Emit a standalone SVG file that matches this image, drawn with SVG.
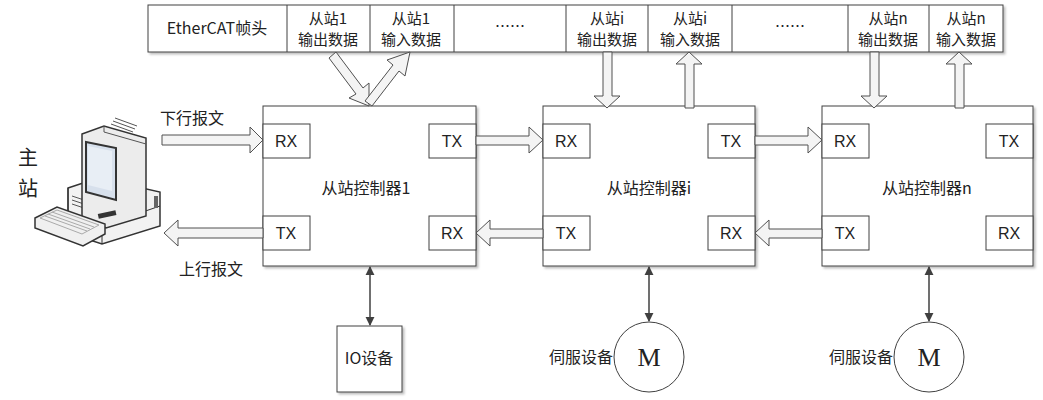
<svg xmlns="http://www.w3.org/2000/svg" width="1043" height="400" viewBox="0 0 1043 400">
<defs>
<style>
.b{fill:#fff;stroke:#404040;stroke-width:1}
.ha{fill:#f4f4f4;stroke:#505050;stroke-width:1}
.t{font-family:"Noto Sans CJK SC","Liberation Sans",sans-serif;font-size:15px;fill:#222;text-anchor:middle}
.tb{font-family:"Noto Sans CJK SC","Liberation Sans",sans-serif;font-size:16px;fill:#222;text-anchor:middle}
.tl{font-family:"Liberation Sans","Noto Sans CJK SC",sans-serif;font-size:16px;fill:#222;text-anchor:middle}
.big{font-family:"Noto Sans CJK SC",sans-serif;font-size:20px;fill:#222;text-anchor:middle}
.m{font-family:"Liberation Serif",serif;font-size:26px;fill:#222;text-anchor:middle}
.c{stroke:#404040;stroke-width:1.5;fill:none}
</style>
<filter id="sh" x="-5%" y="-5%" width="115%" height="115%"><feDropShadow dx="2" dy="2" stdDeviation="1" flood-color="#000" flood-opacity="0.25"/></filter>
<marker id="ah" viewBox="0 0 10 10" refX="9" refY="5" markerWidth="9" markerHeight="11" markerUnits="userSpaceOnUse" orient="auto-start-reverse"><path d="M0,0L10,5L0,10z" fill="#404040"/></marker>
</defs>

<g id="frame" filter="url(#sh)">
<rect class="b" x="148" y="5" width="855" height="47"/>
<path d="M287,5V52M370,5V52M454,5V52M566,5V52M648,5V52M732,5V52M848,5V52M929,5V52" stroke="#404040" fill="none"/>
</g>
<g id="frame-text">
<text class="tb" x="217" y="34">EtherCAT帧头</text>
<text class="t" x="328" y="24">从站1</text><text class="t" x="328" y="45">输出数据</text>
<text class="t" x="411" y="24">从站1</text><text class="t" x="411" y="45">输入数据</text>
<text class="t" x="510" y="32">……</text>
<text class="t" x="607" y="24">从站i</text><text class="t" x="607" y="45">输出数据</text>
<text class="t" x="690" y="24">从站i</text><text class="t" x="690" y="45">输入数据</text>
<text class="t" x="790" y="32">……</text>
<text class="t" x="888" y="24">从站n</text><text class="t" x="888" y="45">输出数据</text>
<text class="t" x="966" y="24">从站n</text><text class="t" x="966" y="45">输入数据</text>
</g>

<g id="controller1" filter="url(#sh)">
<rect class="b" x="263" y="106" width="213" height="160"/>
<rect class="b" x="263" y="124" width="47" height="34"/>
<rect class="b" x="429" y="124" width="47" height="34"/>
<rect class="b" x="263" y="216" width="47" height="34"/>
<rect class="b" x="429" y="216" width="47" height="34"/>
</g>
<g id="controller1-text">
<text class="tl" x="286" y="147">RX</text><text class="tl" x="452" y="147">TX</text>
<text class="tl" x="286" y="239">TX</text><text class="tl" x="452" y="239">RX</text>
<text class="tb" x="366" y="194">从站控制器1</text>
</g>

<g id="controlleri" filter="url(#sh)">
<rect class="b" x="543" y="106" width="212" height="160"/>
<rect class="b" x="543" y="124" width="47" height="34"/>
<rect class="b" x="708" y="124" width="47" height="34"/>
<rect class="b" x="543" y="216" width="47" height="34"/>
<rect class="b" x="708" y="216" width="47" height="34"/>
</g>
<g id="controlleri-text">
<text class="tl" x="566" y="147">RX</text><text class="tl" x="731" y="147">TX</text>
<text class="tl" x="566" y="239">TX</text><text class="tl" x="731" y="239">RX</text>
<text class="tb" x="649" y="194">从站控制器i</text>
</g>

<g id="controllern" filter="url(#sh)">
<rect class="b" x="822" y="106" width="211" height="160"/>
<rect class="b" x="822" y="124" width="47" height="34"/>
<rect class="b" x="986" y="124" width="47" height="34"/>
<rect class="b" x="822" y="216" width="47" height="34"/>
<rect class="b" x="986" y="216" width="47" height="34"/>
</g>
<g id="controllern-text">
<text class="tl" x="845" y="147">RX</text><text class="tl" x="1009" y="147">TX</text>
<text class="tl" x="845" y="239">TX</text><text class="tl" x="1009" y="239">RX</text>
<text class="tb" x="927" y="194">从站控制器n</text>
</g>

<g id="io" filter="url(#sh)"><rect class="b" x="337" y="326" width="65" height="66"/></g>
<text class="tb" x="369" y="364">IO设备</text>
<g id="servoi"><circle class="b" cx="649" cy="357" r="35"/><text class="m" x="649" y="366">M</text>
<text class="tb" x="613" y="363" style="text-anchor:end">伺服设备</text></g>
<g id="servon"><circle class="b" cx="929" cy="357" r="35"/><text class="m" x="929" y="366">M</text>
<text class="tb" x="893" y="363" style="text-anchor:end">伺服设备</text></g>

<g id="master">
<text class="big" x="28" y="165">主</text>
<text class="big" x="28" y="196">站</text>
<path d="M68,188l30,-10l62,14l0,34l-58,18l-34,-11z" fill="#f2f2f2" stroke="#333" stroke-width="1.5"/>
<path d="M68,188l0,27l34,11l0,18M102,226l58,-20" fill="none" stroke="#333"/>
<path d="M72,196l24,8M72,200l24,8M72,204l24,8" stroke="#555"/>
<rect x="154" y="196" width="4" height="12" fill="#666"/>
<path d="M82,134l22,-8l42,12l0,78l-40,12l-24,-10z" fill="#ececec" stroke="#333" stroke-width="1.5"/>
<path d="M104,126l0,6l42,12" fill="none" stroke="#555"/>
<path d="M111,124l22,8M113,121l22,8M115,118l22,8" stroke="#555"/>
<path d="M86,142l30,6l0,52l-30,-8z" fill="#d7e0ec" stroke="#333" stroke-width="2"/>
<path d="M88,146l24,5l0,40l-24,-6z" fill="#e8eef5"/>
<rect x="98" y="212" width="18" height="5" fill="#333" transform="rotate(-12 107 214)"/>
<path d="M35,218l22,-11l48,17l0,10l-22,12l-48,-18z" fill="#f0f0f0" stroke="#333" stroke-width="1.5"/>
<path d="M40,218l17,-8l42,15l-17,9zM48,214l42,15M45,216l42,15M52,212l42,15" fill="none" stroke="#aaa"/>
</g>

<g id="connectors">
<polygon class="ha" points="162,135 250,135 250,127 263,140 250,153 250,145 162,145"/>
<polygon class="ha" points="263,228 178,228 178,220 164,233 178,246 178,238 263,238"/>
<polygon class="ha" points="476,136 529,136 529,127 543,140 529,153 529,145 476,145"/>
<polygon class="ha" points="755,136 808,136 808,127 822,140 808,153 808,145 755,145"/>
<polygon class="ha" points="543,229 490,229 490,220 476,233 490,246 490,238 543,238"/>
<polygon class="ha" points="822,229 769,229 769,220 755,233 769,246 769,238 822,238"/>
<polygon class="ha" points="603,52 612,52 612,96 620,96 607,108 594,96 603,96"/>
<polygon class="ha" points="685,108 694,108 694,64 702,64 689,52 676,64 685,64"/>
<polygon class="ha" points="870,52 879,52 879,96 887,96 874,108 861,96 870,96"/>
<polygon class="ha" points="955,108 964,108 964,64 972,64 959,52 946,64 955,64"/>
<polygon class="ha" points="329,58 336,52 363,88 369,83 369,106 349,98 356,94"/>
<polygon class="ha" points="372,106 365,101 393,65 387,60 410,52 405,76 399,71"/>
<line class="c" x1="370" y1="267" x2="370" y2="325" marker-start="url(#ah)" marker-end="url(#ah)"/>
<line class="c" x1="649" y1="267" x2="649" y2="321" marker-start="url(#ah)" marker-end="url(#ah)"/>
<line class="c" x1="929" y1="267" x2="929" y2="321" marker-start="url(#ah)" marker-end="url(#ah)"/>
</g>
<text class="tb" x="192" y="124">下行报文</text>
<text class="tb" x="211" y="275">上行报文</text>
</svg>
